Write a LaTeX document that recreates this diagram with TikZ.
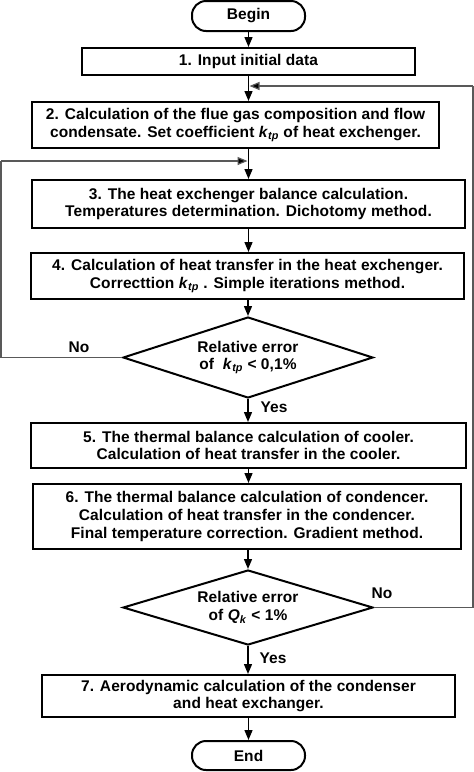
\documentclass[tikz,border=0pt]{standalone}
\usepackage{fontspec}
\setmainfont{Liberation Sans}[LetterSpace=0.6]
\usetikzlibrary{shapes.geometric,arrows.meta}
\newcommand{\ktp}{\textit{k}\textsubscript{\textit{tp}}}
\begin{document}
\begin{tikzpicture}[x=1pt,y=-1pt,
  font=\fontsize{15.5}{17.8}\selectfont\bfseries,
  box/.style={draw,line width=2pt,rectangle,inner sep=0pt,align=center},
  term/.style={draw,line width=2pt,rectangle,rounded corners=14pt,inner sep=0pt,minimum width=113pt},
  dec/.style={draw,line width=2pt,diamond,inner sep=0pt},
  lbl/.style={align=center,inner sep=0pt},
  arr/.style={line width=1.4pt,-{Triangle[length=10pt,width=8pt]}},
  fb/.style={line width=1.2pt,draw=black!65},
  fbarr/.style={line width=1.2pt,draw=black!65,-{Triangle[length=10pt,width=8pt,fill=black]}}]
\useasboundingbox (0,0) rectangle (474,772);
\node[term,minimum height=30pt] (begin) at (248.5,16) {Begin};
\node[box,minimum width=333pt,minimum height=27pt] (b1) at (248.5,61.5) {1. Input initial data};
\node[box,minimum width=407pt,minimum height=46pt] (b2) at (235.5,125) {2. Calculation of the flue gas composition and flow\\condensate. Set coefficient \ktp{} of heat exchenger.};
\node[box,minimum width=433pt,minimum height=48pt] (b3) at (248.5,204) {3. The heat exchenger balance calculation.\\Temperatures determination. Dichotomy method.};
\node[box,minimum width=433pt,minimum height=46pt] (b4) at (247.5,276) {4. Calculation of heat transfer in the heat exchenger.\\Correcttion \ktp{} . Simple iterations method.};
\node[dec,minimum width=250pt,minimum height=81pt] (d1) at (248,357.5) {};
\node[lbl] (t1) at (d1.center) {Relative error\\of\ \ \ktp{} < 0,1\%};
\node[box,minimum width=435pt,minimum height=45pt] (b5) at (248.5,445.5) {5. The thermal balance calculation of cooler.\\Calculation of heat transfer in the cooler.};
\node[box,minimum width=428pt,minimum height=65pt] (b6) at (247,516.5) {6. The thermal balance calculation of condencer.\\Calculation of heat transfer in the condencer.\\Final temperature correction. Gradient method.};
\node[dec,minimum width=250pt,minimum height=75pt] (d2) at (248,607.5) {};
\node[lbl] (t2) at (d2.center) {Relative error\\of \textit{Q}\textsubscript{\textit{k}} < 1\%};
\node[box,minimum width=413pt,minimum height=42pt] (b7) at (248.5,696) {7. Aerodynamic calculation of the condenser\\and heat exchanger.};
\node[term,minimum height=29pt] (end) at (248.5,755.5) {End};

\coordinate (m1) at (248.5,86);
\coordinate (m2) at (248.5,161);
\coordinate (r1) at (473,607.5);
\coordinate (r2) at (473,86);
\coordinate (l1) at (1,357.5);
\coordinate (l2) at (1,161);

\draw[arr] (begin.south) -- (begin.south |- b1.north);
\draw[arr] (b1.south) -- (b1.south |- b2.north);
\draw[arr] (b1.south |- b2.south) -- (b1.south |- b3.north);
\draw[arr] (b3.south) -- (b3.south |- b4.north);
\draw[arr] (d1.north |- b4.south) -- (d1.north);
\draw[arr] (d1.south) -- (d1.south |- b5.north);
\draw[arr] (b5.south) -- (b5.south |- b6.north);
\draw[arr] (d2.north |- b6.south) -- (d2.north);
\draw[arr] (d2.south) -- (d2.south |- b7.north);
\draw[arr] (b7.south) -- (b7.south |- end.north);

\draw[fb] (d2.east) -- (r1) -- (r2);
\draw[fbarr] (r2) -- ([xshift=1pt]m1);
\draw[fb] (d1.west) -- (l1) -- (l2);
\draw[fbarr] (l2) -- ([xshift=-1pt]m2);

\node (no1) at (79,347) {No};
\node (no2) at (382,593) {No};
\node[anchor=west] (yes1) at (257,407) {Yes};
\node[anchor=west] (yes2) at (256,658) {Yes};
\end{tikzpicture}
\end{document}
